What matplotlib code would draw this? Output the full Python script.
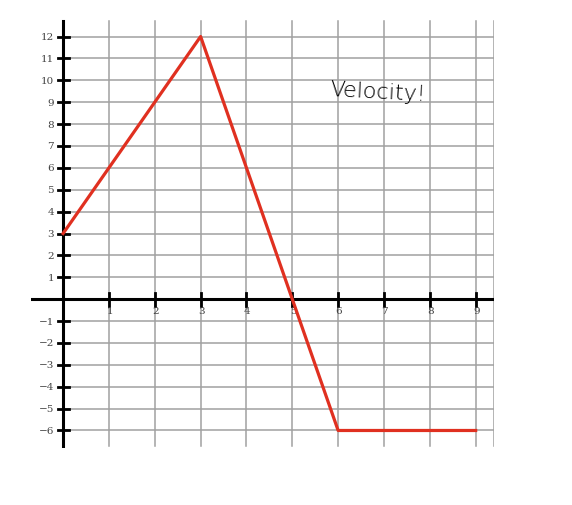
import matplotlib.pyplot as plt

# velocity vs time
t = [0, 3, 5, 6, 9]
v = [3, 12, 0, -6, -6]
xticks = list(range(1, 10))
yticks = [y for y in range(-6, 13) if y != 0]

fig = plt.figure(figsize=(5.72, 5.06), dpi=100)
ax = fig.add_axes([31/572, 57/506, 463/572, 429/506])
ax.set_xlim(-0.7, 9.4)
ax.set_ylim(-6.8, 12.8)
for s in ax.spines.values():
    s.set_visible(False)
ax.set_xticks([])
ax.set_yticks([])

# grid
for x in xticks:
    ax.plot([x, x], [-6.7, 12.7], color='#a0a0a0', lw=1.1, zorder=1)
for y in yticks:
    ax.plot([0, 9.4], [y, y], color='#a0a0a0', lw=1.1, zorder=1)
ax.plot([9.4, 9.4], [-6.7, 12.7], color='#a0a0a0', lw=1.1, zorder=1)

# axes
ax.plot([-0.7, 9.4], [0, 0], color='black', lw=2.2, zorder=2)
ax.plot([0, 0], [-6.8, 12.7], color='black', lw=2.2, zorder=2)
for x in xticks:
    ax.plot([x, x], [-0.3, 0.3], color='black', lw=2, zorder=2)
    ax.text(x + 0.02, -0.5, str(x), fontsize=7.5, color='#444444',
            ha='center', va='center', family='DejaVu Serif')
for y in yticks:
    ax.plot([-0.12, 0.12], [y, y], color='black', lw=2, zorder=2)
    ax.text(-0.2, y, str(y).replace('-', '\u2212'), fontsize=7.5, color='#444444',
            ha='right', va='center', family='DejaVu Serif')

ax.plot(t, v, color='#e03020', lw=2.3, zorder=3)
ax.text(5.8, 9.1, 'Velocity!', fontsize=16, rotation=-3, color='black',
        family='DejaVu Sans', fontweight='light')

fig.savefig('out.png', dpi=100)
